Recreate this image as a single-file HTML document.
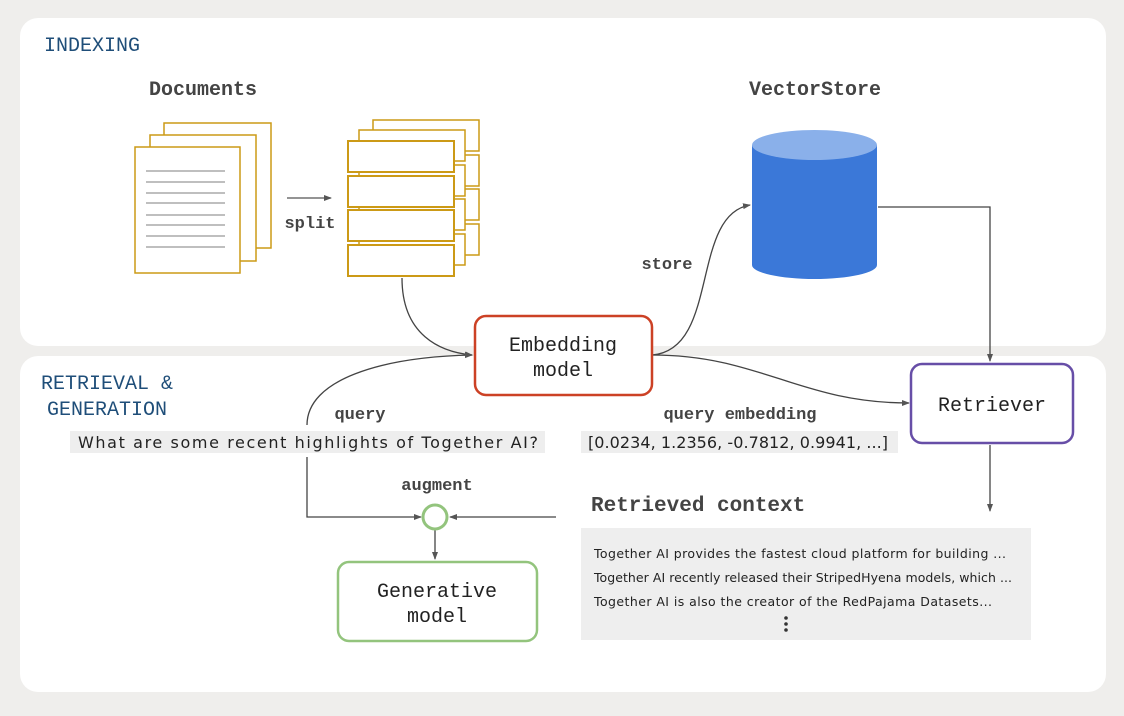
<!DOCTYPE html>
<html><head><meta charset="utf-8"><style>
body{margin:0;background:#efeeec;}
svg{display:block}
.m{font-family:"Liberation Mono","DejaVu Sans Mono",monospace}
.h{font-family:"DejaVu Sans","Liberation Sans",sans-serif}
</style></head><body>
<svg width="1124" height="716" viewBox="0 0 1124 716" xmlns="http://www.w3.org/2000/svg">
<defs><marker id="a" markerWidth="8" markerHeight="8" refX="7" refY="4" orient="auto" markerUnits="userSpaceOnUse"><path d="M0,1 L8,4 L0,7 z" fill="#555"/></marker></defs>
<rect width="1124" height="716" fill="#efeeec"/>
<rect x="20" y="18" width="1086" height="328" rx="18" fill="#fff"/>
<rect x="20" y="356" width="1086" height="336" rx="18" fill="#fff"/>
<g class="m" fill="#1f4e79" font-size="20">
<text x="44" y="51">INDEXING</text>
<text x="41" y="389">RETRIEVAL &amp;</text>
<text x="47" y="415">GENERATION</text>
</g>
<g class="m" fill="#444" font-weight="bold">
<text x="203" y="95" font-size="20" text-anchor="middle">Documents</text>
<text x="815" y="95" font-size="20" text-anchor="middle">VectorStore</text>
<text x="310" y="228" font-size="17" text-anchor="middle">split</text>
<text x="667" y="269" font-size="17" text-anchor="middle">store</text>
<text x="360" y="419" font-size="17" text-anchor="middle">query</text>
<text x="740" y="419" font-size="17" text-anchor="middle">query embedding</text>
<text x="437" y="490" font-size="17" text-anchor="middle">augment</text>
<text x="591" y="511" font-size="21">Retrieved context</text>
</g>
<!-- docs -->
<g fill="#fff" stroke="#cc9a16" stroke-width="1.5">
<rect x="164" y="123" width="107" height="125"/>
<rect x="150" y="135" width="106" height="126"/>
<rect x="135" y="147" width="105" height="126"/>
</g>
<g stroke="#aaa" stroke-width="1.5">
<line x1="146" y1="171" x2="225" y2="171"/><line x1="146" y1="182" x2="225" y2="182"/>
<line x1="146" y1="193" x2="225" y2="193"/><line x1="146" y1="203" x2="225" y2="203"/>
<line x1="146" y1="215" x2="225" y2="215"/><line x1="146" y1="225" x2="225" y2="225"/>
<line x1="146" y1="236" x2="225" y2="236"/><line x1="146" y1="247" x2="225" y2="247"/>
</g>
<line x1="287" y1="198" x2="331" y2="198" stroke="#555" stroke-width="1.3" marker-end="url(#a)"/>
<!-- chunks -->
<g fill="#fff" stroke="#cc9a16" stroke-width="1.5">
<rect x="373" y="120" width="106" height="31"/><rect x="373" y="155" width="106" height="31"/><rect x="373" y="189" width="106" height="31"/><rect x="373" y="224" width="106" height="31"/>
<rect x="359" y="130" width="106" height="31"/><rect x="359" y="165" width="106" height="31"/><rect x="359" y="199" width="106" height="31"/><rect x="359" y="234" width="106" height="31"/>
<rect x="348" y="141" width="106" height="31" stroke-width="2"/><rect x="348" y="176" width="106" height="31" stroke-width="2"/><rect x="348" y="210" width="106" height="31" stroke-width="2"/><rect x="348" y="245" width="106" height="31" stroke-width="2"/>
</g>
<!-- cylinder -->
<path d="M752,145 L752,265 A62.5,14 0 0 0 877,265 L877,145 z" fill="#3b78d8"/>
<ellipse cx="814.5" cy="145" rx="62.5" ry="15" fill="#8ab0ea"/>
<!-- connectors -->
<g fill="none" stroke="#444" stroke-width="1.3">
<path d="M402,278 C402,335 440,352 472,355" marker-end="url(#a)"/>
<path d="M307,425 C307,380 380,357 472,355" marker-end="url(#a)"/>
<path d="M652,355 C720,350 690,215 750,205" marker-end="url(#a)"/>
<path d="M652,355 C760,355 800,403 909,403" marker-end="url(#a)"/>
<path d="M878,207 L990,207 L990,361" marker-end="url(#a)"/>
<path d="M990,445 L990,511" marker-end="url(#a)"/>
<path d="M307,457 L307,517 L421,517" marker-end="url(#a)"/>
<path d="M556,517 L450,517" marker-end="url(#a)"/>
<path d="M435,530 L435,559" marker-end="url(#a)"/>
</g>
<circle cx="435" cy="517" r="12" fill="#fff" stroke="#93c47d" stroke-width="3"/>
<!-- boxes -->
<rect x="475" y="316" width="177" height="79" rx="11" fill="#fff" stroke="#cc4125" stroke-width="2.5"/>
<text x="563" y="351" class="m" font-size="20" text-anchor="middle" fill="#222">Embedding</text>
<text x="563" y="376" class="m" font-size="20" text-anchor="middle" fill="#222">model</text>
<rect x="911" y="364" width="162" height="79" rx="11" fill="#fff" stroke="#674ea7" stroke-width="2.5"/>
<text x="992" y="411" class="m" font-size="20" text-anchor="middle" fill="#222">Retriever</text>
<rect x="338" y="562" width="199" height="79" rx="11" fill="#fff" stroke="#93c47d" stroke-width="2.5"/>
<text x="437" y="597" class="m" font-size="20" text-anchor="middle" fill="#222">Generative</text>
<text x="437" y="622" class="m" font-size="20" text-anchor="middle" fill="#222">model</text>
<!-- text boxes -->
<rect x="70" y="431" width="475" height="22" fill="#eeeeee"/>
<text x="78" y="448" class="h" font-size="16" fill="#222" textLength="460">What are some recent highlights of Together AI?</text>
<rect x="581" y="431" width="317" height="22" fill="#eeeeee"/>
<text x="588" y="448" class="h" font-size="16" fill="#222" textLength="300">[0.0234, 1.2356, -0.7812, 0.9941, ...]</text>
<rect x="581" y="528" width="450" height="112" fill="#eeeeee"/>
<g class="h" font-size="12.5" fill="#222">
<text x="594" y="558" textLength="412">Together AI provides the fastest cloud platform for building ...</text>
<text x="594" y="582" textLength="418">Together AI recently released their StripedHyena models, which ...</text>
<text x="594" y="606" textLength="398">Together AI is also the creator of the RedPajama Datasets...</text>
</g>
<g fill="#333"><circle cx="786" cy="618" r="1.8"/><circle cx="786" cy="624" r="1.8"/><circle cx="786" cy="630" r="1.8"/></g>
</svg>
</body></html>
